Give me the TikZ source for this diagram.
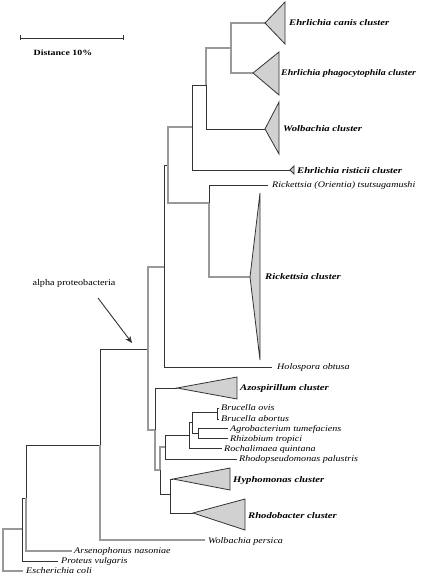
\documentclass[tikz,border=0pt]{standalone}
\usepackage{fontspec}
\setmainfont{Liberation Serif}
\newfontfamily\labfont[FakeStretch=1.17]{Liberation Serif}
\newfontfamily\clabfont[FakeStretch=1.24]{Liberation Serif}
\usetikzlibrary{arrows.meta}
\begin{document}
\begin{tikzpicture}[x=1pt,y=-1pt,
  br/.style={draw=black!80,line width=0.9pt},
  brg/.style={draw=black!40,line width=1.1pt},
  tri/.style={fill=black!18,draw=black!80,line width=0.8pt,line join=miter},
  lab/.style={anchor=west,inner sep=0pt,font=\labfont\fontsize{8.6}{10}\selectfont\itshape},
  clab/.style={anchor=west,inner sep=0pt,font=\clabfont\fontsize{8.6}{10}\selectfont\bfseries\itshape},
  txt/.style={inner sep=0pt,font=\labfont\fontsize{8.7}{10}\selectfont}]
\useasboundingbox[fill=white] (0,0) rectangle (420,577);
% scale bar
\coordinate (sb1) at (20,38); \coordinate (sb2) at (124,38);
\draw[br,{Bar[width=5pt]}-{Bar[width=5pt]}] (sb1) -- (sb2);
\node[txt,font=\clabfont\fontsize{8}{10}\selectfont\bfseries] (dist) at (63,53) {Distance 10\%};
% internal nodes
\coordinate (R0) at (3,550);
\coordinate (N1) at (22,529);
\coordinate (N2) at (26,498);
\coordinate (N3) at (100,445);
\coordinate (A) at (148,349);
\coordinate (B) at (164,267);
\coordinate (C) at (155,430);
\coordinate (D) at (160,470);
\coordinate (E) at (165,447);
\coordinate (G) at (189,435);
\coordinate (H) at (192,422);
\coordinate (I) at (217,412);
\coordinate (J) at (198,433);
\coordinate (F) at (170,494);
\coordinate (K) at (168,165);
\coordinate (L) at (192,127);
\coordinate (P) at (206,85);
\coordinate (Q) at (231,48);
\coordinate (M) at (209,203);
% leaves
\coordinate (ecoli) at (23,571);
\coordinate (prot) at (58,561);
\coordinate (arse) at (72,551);
\coordinate (wpers) at (205,540);
\coordinate (holo) at (272,367);
\coordinate (tsu) at (268,185);
\coordinate (azo) at (177,388);
\coordinate (rpal) at (237,459);
\coordinate (roch) at (222,448);
\coordinate (bov) at (219,408);
\coordinate (bab) at (219,419);
\coordinate (agro) at (228,428);
\coordinate (rhiz) at (228,438);
\coordinate (hyph) at (173,479);
\coordinate (rbac) at (193,513);
\coordinate (canis) at (265,23);
\coordinate (phago) at (253,73);
\coordinate (wolb) at (265,129);
\coordinate (rist) at (290,170);
\coordinate (rick) at (250,277);
% branches
\draw[brg] (R0) |- (N1);
\draw[brg] (R0) |- (ecoli);
\draw[br] (N1) |- (prot);
\draw[br] (N1) |- (N2);
\draw[brg] (N2) |- (arse);
\draw[br] (N2) |- (N3);
\draw[br] (N3) |- (A);
\draw[brg] (N3) |- (wpers);
\draw[brg] (A) |- (B);
\draw[brg] (A) |- (C);
\draw[br] (C) |- (azo);
\draw[brg] (C) |- (D);
\draw[brg] (D) |- (E);
\draw[br] (D) |- (F);
\draw[br] (E) |- (rpal);
\draw[br] (E) |- (G);
\draw[br] (G) |- (roch);
\draw[br] (G) |- (H);
\draw[br] (H) |- (I);
\draw[br] (H) |- (J);
\draw[br] (I) |- (bov);
\draw[br] (I) |- (bab);
\draw[br] (J) |- (agro);
\draw[br] (J) |- (rhiz);
\draw[br] (F) |- (hyph);
\draw[br] (F) |- (rbac);
\draw[br] (B) |- (K);
\draw[br] (B) |- (holo);
\draw[brg] (K) |- (L);
\draw[brg] (K) |- (M);
\draw[br] (L) |- (P);
\draw[br] (L) |- (rist);
\draw[brg] (P) |- (Q);
\draw[br] (P) |- (wolb);
\draw[brg] (Q) |- (canis);
\draw[brg] (Q) |- (phago);
\draw[br] (M) |- (tsu);
\draw[brg] (M) |- (rick);
% collapsed clusters
\draw[tri] (canis) -- (285,2) -- (285,44) -- cycle;
\draw[tri] (phago) -- (279,52) -- (279,95) -- cycle;
\draw[tri] (wolb) -- (279,102) -- (279,154) -- cycle;
\draw[tri] (rist) -- (294,166) -- (294,174) -- cycle;
\draw[tri] (rick) -- (260,193) -- (260,360) -- cycle;
\draw[tri] (azo) -- (237,377) -- (237,399) -- cycle;
\draw[tri] (hyph) -- (230,468) -- (230,490) -- cycle;
\draw[tri] (rbac) -- (245,499) -- (245,530) -- cycle;
% labels
\node[clab] (lcanis) at (289,23) {Ehrlichia canis cluster};
\node[clab,font=\labfont\fontsize{8.5}{10}\selectfont\bfseries\itshape] (lphago) at (281,73) {Ehrlichia phagocytophila cluster};
\node[clab] (lwolb) at (283,129) {Wolbachia cluster};
\node[clab] (lrist) at (297,171) {Ehrlichia risticii cluster};
\node[lab] (ltsu) at (272,185) {Rickettsia (Orientia) tsutsugamushi};
\node[clab] (lrick) at (265,277) {Rickettsia cluster};
\node[lab] (lholo) at (277,367) {Holospora obtusa};
\node[clab] (lazo) at (240,388) {Azospirillum cluster};
\node[lab] (lbov) at (221,408) {Brucella ovis};
\node[lab] (lbab) at (221,419) {Brucella abortus};
\node[lab] (lagro) at (230,429) {Agrobacterium tumefaciens};
\node[lab] (lrhiz) at (230,439) {Rhizobium tropici};
\node[lab] (lroch) at (224,449) {Rochalimaea quintana};
\node[lab] (lrpal) at (239,459) {Rhodopseudomonas palustris};
\node[clab] (lhyph) at (233,480) {Hyphomonas cluster};
\node[clab] (lrbac) at (248,516) {Rhodobacter cluster};
\node[lab] (lwpers) at (208,541) {Wolbachia persica};
\node[lab] (larse) at (74,551) {Arsenophonus nasoniae};
\node[lab] (lprot) at (61,561) {Proteus vulgaris};
\node[lab] (lecoli) at (26,571) {Escherichia coli};
% alpha proteobacteria
\node[txt] (alpha) at (74,283) {alpha proteobacteria};
\coordinate (aT) at (98,298); \coordinate (aH) at (132,343);
\draw[br,-{Stealth[length=7pt,width=6pt]}] (aT) -- (aH);
\end{tikzpicture}
\end{document}
